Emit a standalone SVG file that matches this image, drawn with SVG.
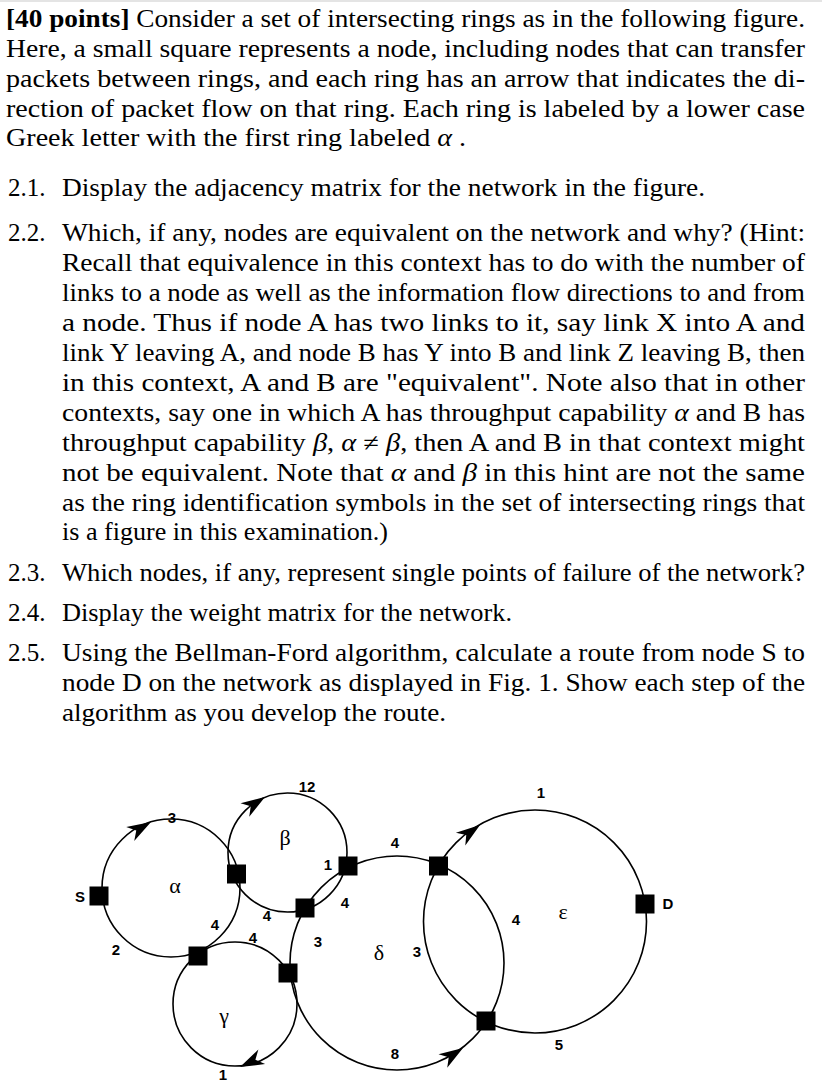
<svg xmlns="http://www.w3.org/2000/svg" xmlns:xlink="http://www.w3.org/1999/xlink" width="822" height="1092" viewBox="0 0 822 1092">
<style>
.t{font-family:"Liberation Serif","Times New Roman",serif;font-size:25px;fill:#000}
.b{font-weight:bold}
.i{font-style:italic}
.ring{fill:none;stroke:#000;stroke-width:1.6}
.nd{fill:#000}
.num{font-family:"Liberation Sans",Arial,sans-serif;font-weight:bold;font-size:15px;text-anchor:middle;fill:#000}
.gr{font-family:"Liberation Serif","DejaVu Serif",serif;font-size:22px;text-anchor:middle;fill:#000}
</style>
<defs>
<path id="ah" d="M0,0 L-24,-8 L-17,0 L-24,8 Z" fill="#000"/>
</defs>
<rect x="0" y="0" width="822" height="1092" fill="#fff"/>
<rect x="0" y="0" width="822" height="2" fill="#e4e4e4"/>

<g id="text">
<text class="t" x="6" y="27" textLength="799" lengthAdjust="spacingAndGlyphs"><tspan class="b">[40 points]</tspan> Consider a set of intersecting rings as in the following figure.</text>
<text class="t" x="6" y="57" textLength="799" lengthAdjust="spacingAndGlyphs">Here, a small square represents a node, including nodes that can transfer</text>
<text class="t" x="6" y="87" textLength="799" lengthAdjust="spacingAndGlyphs">packets between rings, and each ring has an arrow that indicates the di-</text>
<text class="t" x="6" y="117" textLength="799" lengthAdjust="spacingAndGlyphs">rection of packet flow on that ring. Each ring is labeled by a lower case</text>
<text class="t" x="6" y="146" textLength="460" lengthAdjust="spacingAndGlyphs">Greek letter with the first ring labeled <tspan class="i">α</tspan> .</text>

<text class="t" x="8" y="196">2.1.</text>
<text class="t" x="62" y="196" textLength="643" lengthAdjust="spacingAndGlyphs">Display the adjacency matrix for the network in the figure.</text>

<text class="t" x="8" y="241">2.2.</text>
<text class="t" x="62" y="241" textLength="743" lengthAdjust="spacingAndGlyphs">Which, if any, nodes are equivalent on the network and why? (Hint:</text>
<text class="t" x="62" y="271" textLength="743" lengthAdjust="spacingAndGlyphs">Recall that equivalence in this context has to do with the number of</text>
<text class="t" x="62" y="301" textLength="743" lengthAdjust="spacingAndGlyphs">links to a node as well as the information flow directions to and from</text>
<text class="t" x="62" y="331" textLength="743" lengthAdjust="spacingAndGlyphs">a node. Thus if node A has two links to it, say link X into A and</text>
<text class="t" x="62" y="361" textLength="743" lengthAdjust="spacingAndGlyphs">link Y leaving A, and node B has Y into B and link Z leaving B, then</text>
<text class="t" x="62" y="391" textLength="743" lengthAdjust="spacingAndGlyphs">in this context, A and B are "equivalent". Note also that in other</text>
<text class="t" x="62" y="421" textLength="743" lengthAdjust="spacingAndGlyphs">contexts, say one in which A has throughput capability <tspan class="i">α</tspan> and B has</text>
<text class="t" x="62" y="451" textLength="743" lengthAdjust="spacingAndGlyphs">throughput capability <tspan class="i">β</tspan>, <tspan class="i">α</tspan> ≠ <tspan class="i">β</tspan>, then A and B in that context might</text>
<text class="t" x="62" y="481" textLength="743" lengthAdjust="spacingAndGlyphs">not be equivalent. Note that <tspan class="i">α</tspan> and <tspan class="i">β</tspan> in this hint are not the same</text>
<text class="t" x="62" y="511" textLength="743" lengthAdjust="spacingAndGlyphs">as the ring identification symbols in the set of intersecting rings that</text>
<text class="t" x="62" y="540" textLength="326" lengthAdjust="spacingAndGlyphs">is a figure in this examination.)</text>

<text class="t" x="8" y="581">2.3.</text>
<text class="t" x="62" y="581" textLength="743" lengthAdjust="spacingAndGlyphs">Which nodes, if any, represent single points of failure of the network?</text>

<text class="t" x="8" y="621">2.4.</text>
<text class="t" x="62" y="621" textLength="450" lengthAdjust="spacingAndGlyphs">Display the weight matrix for the network.</text>

<text class="t" x="8" y="661">2.5.</text>
<text class="t" x="62" y="661" textLength="743" lengthAdjust="spacingAndGlyphs">Using the Bellman-Ford algorithm, calculate a route from node S to</text>
<text class="t" x="62" y="691" textLength="743" lengthAdjust="spacingAndGlyphs">node D on the network as displayed in Fig. 1. Show each step of the</text>
<text class="t" x="62" y="721" textLength="384" lengthAdjust="spacingAndGlyphs">algorithm as you develop the route.</text>
</g>

<g id="connectors">
<circle id="ring-alpha" class="ring" cx="171" cy="888" r="69"/>
<circle id="ring-beta" class="ring" cx="287.5" cy="852.5" r="59.5"/>
<circle id="ring-gamma" class="ring" cx="235" cy="1004" r="62"/>
<circle id="ring-delta" class="ring" cx="397" cy="963" r="107"/>
<circle id="ring-epsilon" class="ring" cx="535" cy="921.5" r="111.5"/>
<use xlink:href="#ah" href="#ah" transform="translate(151,822) rotate(-30)"/>
<use xlink:href="#ah" href="#ah" transform="translate(265,797) rotate(-33)"/>
<use xlink:href="#ah" href="#ah" transform="translate(240,1067) rotate(155)"/>
<use xlink:href="#ah" href="#ah" transform="translate(463,1048) rotate(-33)"/>
<use xlink:href="#ah" href="#ah" transform="translate(480,825) rotate(-36)"/>
</g>

<g id="node-S"><rect class="nd" x="89.5" y="886.5" width="19" height="19"/><text class="num" x="80" y="902">S</text></g>
<g id="node-D"><rect class="nd" x="635.5" y="894.5" width="19" height="19"/><text class="num" x="668" y="909">D</text></g>
<g id="node-ab"><rect class="nd" x="227" y="864.5" width="19" height="19"/></g>
<g id="node-ag"><rect class="nd" x="188.5" y="946.5" width="19" height="19"/></g>
<g id="node-bd1"><rect class="nd" x="338.5" y="856.5" width="19" height="19"/></g>
<g id="node-bd2"><rect class="nd" x="295.5" y="898.5" width="19" height="19"/></g>
<g id="node-gd"><rect class="nd" x="278.5" y="963.5" width="19" height="19"/></g>
<g id="node-de1"><rect class="nd" x="429" y="856.5" width="19" height="19"/></g>
<g id="node-de2"><rect class="nd" x="476.5" y="1011.5" width="19" height="19"/></g>

<g id="labels">
<text class="num" x="172" y="823">3</text>
<text class="num" x="307" y="792">12</text>
<text class="num" x="541" y="798">1</text>
<text class="num" x="395" y="848">4</text>
<text class="num" x="328" y="870">1</text>
<text class="num" x="345" y="908">4</text>
<text class="num" x="516" y="925">4</text>
<text class="num" x="215" y="930">4</text>
<text class="num" x="267" y="921">4</text>
<text class="num" x="253" y="943">4</text>
<text class="num" x="116" y="955">2</text>
<text class="num" x="318" y="947">3</text>
<text class="num" x="417" y="957">3</text>
<text class="num" x="223" y="1080">1</text>
<text class="num" x="395" y="1059">8</text>
<text class="num" x="559" y="1050">5</text>
<text class="gr" x="175" y="893">α</text>
<text class="gr" x="285" y="845">β</text>
<text class="gr" x="224" y="1023">γ</text>
<text class="gr" x="379" y="960">δ</text>
<text class="gr" x="563" y="919">ε</text>
</g>
</svg>
